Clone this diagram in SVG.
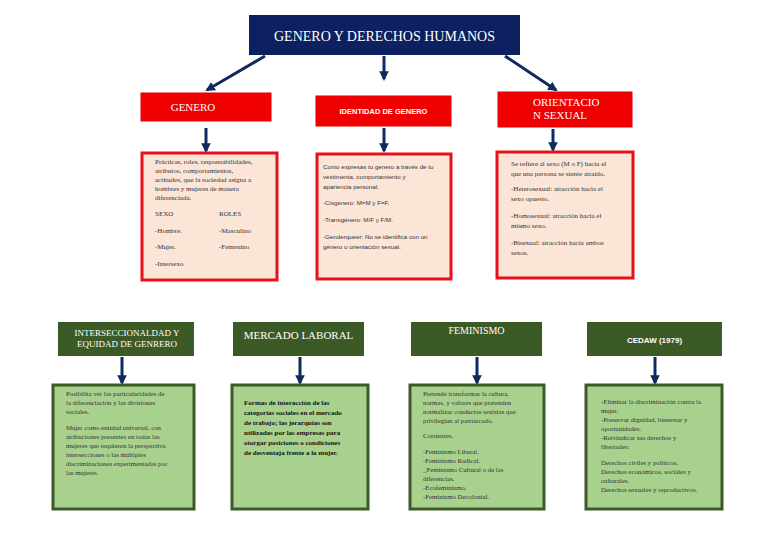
<svg xmlns="http://www.w3.org/2000/svg" width="768" height="543" viewBox="0 0 768 543">
<defs>
<marker id="ah" viewBox="0 0 10 10" refX="8" refY="5" markerWidth="3.2" markerHeight="3.2" orient="auto"><path d="M0,0L10,5L0,10z" fill="#0f2a5c"/></marker>
<style>
.c{stroke:#0f2a5c;stroke-width:3;fill:none;marker-end:url(#ah)}
.rb{fill:#f00000;stroke:#e00000}
.rc{fill:#fbe5d6;stroke:#e8101a;stroke-width:3}
.gb{fill:#3c5a26}
.gc{fill:#a9d18e;stroke:#3c5a26;stroke-width:3}
.ht{font-family:"Liberation Serif",serif;fill:#fff}
.st{font-family:"Liberation Serif",serif;fill:#333}
.ss{font-family:"Liberation Sans",sans-serif;fill:#333}
</style>
</defs>
<rect width="768" height="543" fill="#fff"/>
<g id="connectors">
<path class="c" d="M265,56L207,90"/>
<path class="c" d="M384,56L384,79"/>
<path class="c" d="M505,56L556,90"/>
<path class="c" d="M206,128L206,151"/>
<path class="c" d="M384,128L384,151"/>
<path class="c" d="M553,129L553,150"/>
<path class="c" d="M122,357L122,383"/>
<path class="c" d="M300,357L300,383"/>
<path class="c" d="M477,357L477,383"/>
<path class="c" d="M655,357L655,383"/>
</g>
<g id="title"><rect x="249" y="15" width="271" height="40" fill="#0d2160"/><text x="384.5" y="41" text-anchor="middle" class="ht" style="font-size:14px">GENERO Y DERECHOS HUMANOS</text></g>
<g id="genero"><rect class="rb" x="141" y="93" width="130" height="28"/><text x="193" y="111" text-anchor="middle" class="ht" style="font-size:11px">GENERO</text></g>
<g id="identidad"><rect class="rb" x="316" y="96" width="135" height="30"/><text x="383.5" y="114" text-anchor="middle" font-family="Liberation Sans,sans-serif" font-size="7.5" font-weight="bold" fill="#fff">IDENTIDAD DE GENERO</text></g>
<g id="orientacion"><rect class="rb" x="498" y="92" width="134" height="35"/><text class="ht" style="font-size:11px"><tspan x="533" y="106">ORIENTACIO</tspan><tspan x="533" y="119">N SEXUAL</tspan></text></g>
<g id="genero-box"><rect class="rc" x="142" y="153" width="135" height="127"/>
<text class="st" style="font-size:7px"><tspan x="155" y="164">Prácticas, roles, responsabilidades,</tspan><tspan x="155" y="173">atributos, comportamientos,</tspan><tspan x="155" y="182">actitudes, que la sociedad asigna a</tspan><tspan x="155" y="191">hombres y mujeres de manera</tspan><tspan x="155" y="200">diferenciada.</tspan><tspan x="155" y="216">SEXO</tspan><tspan x="155" y="233">-Hombre.</tspan><tspan x="155" y="249">-Mujer.</tspan><tspan x="155" y="266">-Intersexo</tspan><tspan x="219" y="216">ROLES</tspan><tspan x="219" y="233">-Masculino</tspan><tspan x="219" y="249">-Femenino</tspan></text></g>
<g id="identidad-box"><rect class="rc" x="317" y="154" width="134" height="125"/>
<text class="ss" style="font-size:6.2px"><tspan x="323" y="169">Como expresas tu genero a través de tu</tspan><tspan x="323" y="179">vestimenta, comportamiento y</tspan><tspan x="323" y="189">apariencia personal.</tspan><tspan x="323" y="205">-Cisgenero: M=M y F=F.</tspan><tspan x="323" y="222">-Transgénero: M/F y F/M.</tspan><tspan x="323" y="239">-Genderqueer: No se identifica con un</tspan><tspan x="323" y="249">género u orientación sexual.</tspan></text></g>
<g id="orientacion-box"><rect class="rc" x="497" y="152" width="136" height="126"/>
<text class="st" style="font-size:7px"><tspan x="511" y="166">Se refiere al sexo (M o F) hacia el</tspan><tspan x="511" y="176">que una persona se siente atraído.</tspan><tspan x="511" y="191">-Heterosexual: atracción hacia el</tspan><tspan x="511" y="201">sexo opuesto.</tspan><tspan x="511" y="218">-Homosexual: atracción hacia el</tspan><tspan x="511" y="228">mismo sexo.</tspan><tspan x="511" y="245">-Bisexual: atracción hacia ambos</tspan><tspan x="511" y="255">sexos.</tspan></text></g>
<g id="interseccionalidad"><rect class="gb" x="58" y="322" width="136" height="34"/><text class="ht" style="font-size:9px" text-anchor="middle"><tspan x="127" y="336">INTERSECCIONALDAD Y</tspan><tspan x="127" y="347">EQUIDAD DE GENRERO</tspan></text></g>
<g id="mercado"><rect class="gb" x="233" y="322" width="131" height="34"/><text class="ht" style="font-size:11px" x="298.5" y="339" text-anchor="middle">MERCADO LABORAL</text></g>
<g id="feminismo"><rect class="gb" x="411" y="322" width="131" height="34"/><text class="ht" style="font-size:10px" x="476.5" y="334" text-anchor="middle">FEMINISMO</text></g>
<g id="cedaw"><rect class="gb" x="587" y="322" width="135" height="34"/><text x="654.5" y="343" text-anchor="middle" font-family="Liberation Sans,sans-serif" font-size="8" font-weight="bold" fill="#fff">CEDAW (1979)</text></g>
<g id="interseccionalidad-box"><rect class="gc" x="53" y="385" width="141" height="124"/>
<text class="st" style="font-size:6.8px"><tspan x="66" y="396">Posibilita ver las particularidades de</tspan><tspan x="66" y="405">la diferenciación y las divisiones</tspan><tspan x="66" y="414">sociales.</tspan><tspan x="66" y="430">Mujer como entidad universal, con</tspan><tspan x="66" y="439">atribuciones presentes en todas las</tspan><tspan x="66" y="448">mujeres que requieren la perspectiva</tspan><tspan x="66" y="457">intersecciones o las múltiples</tspan><tspan x="66" y="466">discriminaciones experimentadas por</tspan><tspan x="66" y="475">las mujeres.</tspan></text></g>
<g id="mercado-box"><rect class="gc" x="232" y="385" width="136" height="124"/>
<text class="st" style="font-size:7px;font-weight:bold;fill:#111"><tspan x="244" y="405">Formas de interacción de las</tspan><tspan x="244" y="415">categorías sociales en el mercado</tspan><tspan x="244" y="425">de trabajo; las jerarquías son</tspan><tspan x="244" y="435">utilizadas por las empresas para</tspan><tspan x="244" y="445">otorgar posiciones o condiciones</tspan><tspan x="244" y="455">de desventaja frente a la mujer.</tspan></text></g>
<g id="feminismo-box"><rect class="gc" x="410" y="385" width="134" height="124"/>
<text class="st" style="font-size:6.8px"><tspan x="423" y="396">Pretende transformar la cultura,</tspan><tspan x="423" y="405">normas, y valores que pretenden</tspan><tspan x="423" y="414">normalizar conductas sexistas que</tspan><tspan x="423" y="423">privilegian al patriarcado.</tspan><tspan x="423" y="438">Corrientes.</tspan><tspan x="423" y="454">-Feminismo Liberal.</tspan><tspan x="423" y="463">-Feminismo Radical.</tspan><tspan x="423" y="472">_Feminismo Cultural o de las</tspan><tspan x="423" y="481">diferencias.</tspan><tspan x="423" y="490">-Ecofeminismo.</tspan><tspan x="423" y="499">-Feminismo Decolonial.</tspan></text></g>
<g id="cedaw-box"><rect class="gc" x="586" y="385" width="136" height="124"/>
<text class="st" style="font-size:6.8px"><tspan x="601" y="404">-Eliminar la discriminación contra la</tspan><tspan x="601" y="413">mujer.</tspan><tspan x="601" y="422">-Preservar dignidad, bienestar y</tspan><tspan x="601" y="431">oportunidades.</tspan><tspan x="601" y="440">-Reivindicar sus derechos y</tspan><tspan x="601" y="449">libertades:</tspan><tspan x="601" y="465">Derechos civiles y políticos.</tspan><tspan x="601" y="474">Derechos económicos, sociales y</tspan><tspan x="601" y="483">culturales.</tspan><tspan x="601" y="492">Derechos sexuales y reproductivos.</tspan></text></g>
</svg>
